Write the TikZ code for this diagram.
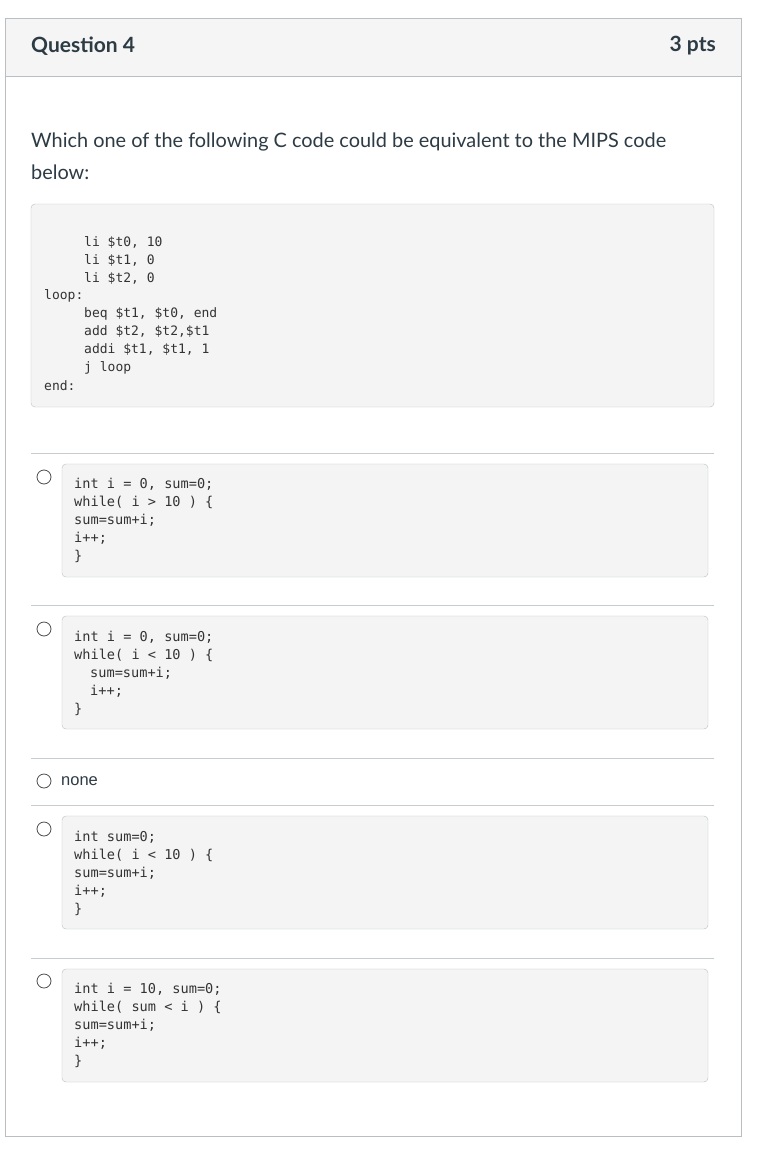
\documentclass[tikz,border=0pt]{standalone}
\usepackage{fontspec}
\setmainfont{Lato}
\newfontfamily\codef{DejaVu Sans Mono}
\newfontfamily\nonef{Liberation Sans}
\definecolor{hdr}{HTML}{F5F5F5}
\definecolor{bord}{HTML}{B8BFC4}
\definecolor{codebg}{HTML}{F4F4F4}
\definecolor{txt}{HTML}{2D3B45}
\definecolor{code}{HTML}{333333}
\begin{document}
\begin{tikzpicture}[x=1pt,y=-1pt,
  cl/.style={anchor=west,inner sep=0pt,font=\codef\fontsize{13}{13}\selectfont,text=code},
  ol/.style={anchor=west,inner sep=0pt,font=\codef\fontsize{13.6}{13.6}\selectfont,text=code},
  cbox/.style={draw=bord,fill=codebg,rounded corners=4pt},
  sep/.style={draw=bord!80,line width=0.6pt},
  radio/.style={draw=black!70,line width=0.8pt,fill=white}]
\useasboundingbox (0,0) rectangle (763,1154);
\fill[white] (0,0) rectangle (763,1154);
\draw[bord,fill=hdr] (5,18) rectangle (741,76);
\draw[bord] (5,76) -- (5,1136) -- (741,1136) -- (741,76);
\node[anchor=west,inner sep=0pt,font=\bfseries\fontsize{21}{21}\selectfont,text=txt] (q) at (31,46) {Question 4};
\node[anchor=east,inner sep=0pt,font=\bfseries\fontsize{21}{21}\selectfont,text=txt] (pts) at (716,46) {3 pts};
\node[anchor=west,inner sep=0pt,font=\fontsize{19.9}{19.9}\selectfont,text=txt] (t1) at (31,142) {Which one of the following C code could be equivalent to the MIPS code};
\node[anchor=west,inner sep=0pt,font=\fontsize{19.9}{19.9}\selectfont,text=txt] (t2) at (31,172) {below:};
\draw[cbox] (31,204) rectangle (714,407);
\node[cl] at (84,242) {li \$t0, 10};
\node[cl] at (84,260) {li \$t1, 0};
\node[cl] at (84,278) {li \$t2, 0};
\node[cl] at (44,296) {loop:};
\node[cl] at (84,314) {beq \$t1, \$t0, end};
\node[cl] at (84,332) {add \$t2, \$t2,\$t1};
\node[cl] at (84,350) {addi \$t1, \$t1, 1};
\node[cl] at (84,368) {j loop};
\node[cl] at (44,386) {end:};
\foreach \y in {453,605,758,805,958} \draw[sep] (31,\y) -- (714,\y);
% option 1
\draw[radio] (44,477) circle (7);
\draw[cbox] (62,464) rectangle (708,577);
\node[ol] at (74,484) {int i = 0, sum=0;};
\node[ol] at (74,502) {while( i > 10 ) \{};
\node[ol] at (74,520) {sum=sum+i;};
\node[ol] at (74,538) {i++;};
\node[ol] at (74,556) {\}};
% option 2
\draw[radio] (44,629) circle (7);
\draw[cbox] (62,616) rectangle (708,729);
\node[ol] at (74,637) {int i = 0, sum=0;};
\node[ol] at (74,655) {while( i < 10 ) \{};
\node[ol] at (90,673) {sum=sum+i;};
\node[ol] at (90,691) {i++;};
\node[ol] at (74,709) {\}};
% none
\draw[radio] (44,781) circle (7);
\node[anchor=west,inner sep=0pt,font=\nonef\fontsize{16.5}{16.5}\selectfont,text=txt] (none) at (61,781) {none};
% option 4
\draw[radio] (44,829) circle (7);
\draw[cbox] (62,816) rectangle (708,929);
\node[ol] at (74,837) {int sum=0;};
\node[ol] at (74,855) {while( i < 10 ) \{};
\node[ol] at (74,873) {sum=sum+i;};
\node[ol] at (74,891) {i++;};
\node[ol] at (74,909) {\}};
% option 5
\draw[radio] (44,981) circle (7);
\draw[cbox] (62,969) rectangle (708,1082);
\node[ol] at (74,989) {int i = 10, sum=0;};
\node[ol] at (74,1007) {while( sum < i ) \{};
\node[ol] at (74,1025) {sum=sum+i;};
\node[ol] at (74,1043) {i++;};
\node[ol] at (74,1061) {\}};
\end{tikzpicture}
\end{document}
